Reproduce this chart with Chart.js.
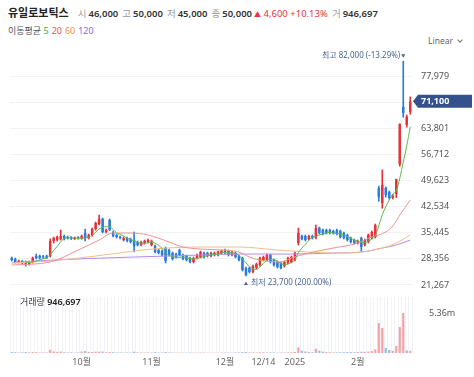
<!DOCTYPE html>
<html>
<head>
<meta charset="utf-8">
<script src="https://cdn.jsdelivr.net/npm/chart.js@4.4.1/dist/chart.umd.min.js"></script>
<style>
  body { margin:0; width:474px; height:377px; background:#fff; overflow:hidden; position:relative;
         font-family:"Noto Sans","Noto Sans CJK KR",sans-serif; color:#222; }
  .hdr { position:absolute; left:8px; white-space:nowrap; font-size:9px; line-height:14px; }
  #hdr1 { top:6px; font-size:9.5px; }
  #hdr2 { top:24px; color:#555; }
  .name { font-size:11px; font-weight:bold; margin-right:5px; }
  .k { color:#999; margin:0 2px 0 4px; }
  .v { font-weight:600; color:#333; }
  .up { color:#e8323c; }
  .ma { margin-left:3px; }
  #linear { position:absolute; left:428px; top:34px; font-size:8.5px; color:#666; line-height:14px; }
  #linear i { display:inline-block; width:3px; height:3px; border-right:1px solid #777; border-bottom:1px solid #777;
              transform:rotate(45deg); margin-left:5px; position:relative; top:-2px; }
  #price-wrap { position:absolute; left:0; top:45px; width:474px; height:248px; }
  #vol-wrap { position:absolute; left:0; top:293px; width:474px; height:84px; }
  #vol-label { position:absolute; left:20px; top:295px; font-size:9px; color:#444; line-height:14px; }
  #vol-label b { color:#222; font-weight:600; }
</style>
</head>
<body>
<div id="hdr1" class="hdr"></div>
<div id="hdr2" class="hdr"></div>
<div id="linear">Linear<i></i></div>
<div id="price-wrap"><canvas id="price"></canvas></div>
<div id="vol-wrap"><canvas id="volume"></canvas></div>
<div id="vol-label"></div>
<script>
const stockName = "유일로보틱스";

const dates = [
  "2024-08-29", "2024-08-30",
  "2024-09-02", "2024-09-03", "2024-09-04", "2024-09-05", "2024-09-06", "2024-09-09", "2024-09-10", "2024-09-11", "2024-09-12",
  "2024-09-13", "2024-09-19", "2024-09-20", "2024-09-23", "2024-09-24", "2024-09-25", "2024-09-26", "2024-09-27", "2024-09-30",
  "2024-10-02", "2024-10-04", "2024-10-07", "2024-10-08", "2024-10-10", "2024-10-11", "2024-10-14", "2024-10-15", "2024-10-16",
  "2024-10-17", "2024-10-18", "2024-10-21", "2024-10-22", "2024-10-23", "2024-10-24", "2024-10-25", "2024-10-28", "2024-10-29",
  "2024-10-30", "2024-10-31",
  "2024-11-01", "2024-11-04", "2024-11-05", "2024-11-06", "2024-11-07", "2024-11-08", "2024-11-11", "2024-11-12", "2024-11-13",
  "2024-11-14", "2024-11-15", "2024-11-18", "2024-11-19", "2024-11-20", "2024-11-21", "2024-11-22", "2024-11-25", "2024-11-26",
  "2024-11-27", "2024-11-28", "2024-11-29",
  "2024-12-02", "2024-12-03", "2024-12-04", "2024-12-05", "2024-12-06", "2024-12-09", "2024-12-10", "2024-12-11", "2024-12-12",
  "2024-12-13", "2024-12-16", "2024-12-17", "2024-12-18", "2024-12-19", "2024-12-20", "2024-12-23", "2024-12-24", "2024-12-26",
  "2024-12-27", "2024-12-30",
  "2025-01-02", "2025-01-03", "2025-01-06", "2025-01-07", "2025-01-08", "2025-01-09", "2025-01-10", "2025-01-13", "2025-01-14",
  "2025-01-15", "2025-01-16", "2025-01-17", "2025-01-20", "2025-01-21", "2025-01-22", "2025-01-23", "2025-01-24", "2025-01-31",
  "2025-02-03", "2025-02-04", "2025-02-05", "2025-02-06", "2025-02-07", "2025-02-10", "2025-02-11", "2025-02-12", "2025-02-13",
  "2025-02-14", "2025-02-17", "2025-02-18", "2025-02-19", "2025-02-20", "2025-02-21", "2025-02-24"
];

const opens = [
  28580, 28310, 27500, 27770, 27500, 26960, 27500, 29130, 29130, 29000,
  29130, 29130, 33200, 33470, 33740, 34550, 34280, 34150, 33800, 34150,
  33900, 35370, 34010, 34830, 36450, 37800, 39170, 35640, 38900, 35640,
  34830, 34280, 33470, 34010, 33740, 33470, 32930, 32110, 32660, 32930,
  32110, 31840, 30755, 30480, 31300, 30755, 29940, 29670, 30755, 29400,
  29130, 28580, 27500, 28580, 28860, 29940, 29940, 29130, 29400, 29400,
  29940, 30755, 30480, 29400, 29940, 29130, 28580, 25870, 25870, 24790,
  25870, 26690, 28040, 28040, 29400, 28040, 27500, 27230, 26410, 27230,
  27500, 28040, 32660, 34550, 34550, 33740, 34550, 34010, 36730, 36180,
  36180, 36180, 35910, 36180, 35910, 35370, 34830, 34010, 33470, 32660,
  34010, 32110, 32930, 34010, 34280, 47600, 43500, 47600, 46500, 44900,
  46000, 54000, 69600, 64700, 68200
];
const highs = [
  28860, 28580, 28040, 27900, 27770, 27770, 28860, 29670, 29400, 29300,
  29400, 33740, 34280, 34550, 36180, 34830, 34550, 34400, 34300, 34400,
  34830, 36450, 35100, 36730, 38350, 40250, 39440, 36450, 39170, 35910,
  35100, 34550, 34280, 34280, 34010, 35640, 33200, 33200, 33470, 33740,
  33470, 32110, 31000, 30755, 31570, 31000, 30210, 29940, 31000, 29670,
  29400, 28860, 28860, 29670, 30480, 30210, 30210, 30210, 30210, 30480,
  30755, 31000, 30755, 30480, 30210, 29400, 28860, 26140, 26140, 26690,
  27230, 28860, 29130, 29670, 29670, 28310, 27770, 27500, 27770, 28860,
  29130, 30210, 36730, 34830, 34830, 34830, 34830, 37540, 37000, 36450,
  36450, 36450, 36180, 36450, 36180, 35640, 35100, 34280, 33740, 33470,
  34280, 33740, 35100, 35910, 37810, 48100, 52500, 47900, 46800, 45900,
  50000, 65000, 82000, 67400, 72300
];
const lows = [
  27770, 27230, 27230, 26960, 26410, 26690, 27230, 28310, 28310, 28500,
  28400, 28860, 32660, 33200, 33470, 33470, 33740, 33600, 33600, 33700,
  33700, 33200, 33740, 34550, 36180, 37540, 35370, 35370, 36000, 34280,
  34010, 33740, 33200, 32930, 32660, 30210, 31840, 31840, 32380, 32660,
  31840, 29940, 29670, 29130, 27230, 29130, 28040, 28580, 29130, 28040,
  27770, 27230, 27230, 28310, 28580, 28580, 28860, 28860, 29130, 29130,
  29670, 29670, 29130, 29130, 28600, 27770, 25060, 23700, 24520, 24520,
  25600, 26410, 27770, 27770, 27230, 26410, 25870, 25600, 26140, 26960,
  27230, 27770, 32110, 33470, 33200, 33470, 33740, 33740, 35100, 34830,
  35100, 35100, 35100, 34830, 34010, 33740, 33200, 32660, 32380, 32380,
  30480, 31840, 32660, 33740, 34010, 44000, 42100, 45100, 44500, 44600,
  45000, 53500, 66800, 64100, 67600
];
const closes = [
  28040, 27500, 27770, 27230, 26960, 27500, 28580, 28580, 28580, 28700,
  28650, 33200, 34010, 34280, 34550, 33740, 33900, 33800, 34150, 33900,
  34550, 33900, 34830, 36450, 38080, 39170, 35640, 36180, 36180, 34550,
  34280, 34010, 34010, 33200, 32930, 31840, 32110, 32930, 33200, 33470,
  33200, 30210, 29940, 29400, 27770, 29400, 28310, 28860, 29400, 28310,
  28040, 27500, 28580, 29400, 30210, 28860, 29130, 29940, 29940, 30210,
  30480, 29940, 29400, 30210, 28860, 28040, 25330, 23970, 24790, 26410,
  26960, 28580, 28860, 29400, 27500, 26690, 26140, 25870, 27500, 28580,
  28860, 29940, 35370, 33740, 33470, 34550, 34010, 36730, 35370, 35100,
  35370, 35370, 35370, 35100, 34280, 34010, 33470, 32930, 32660, 33200,
  31570, 33470, 34830, 35640, 37540, 45200, 48400, 45700, 44900, 45400,
  50000, 65000, 67900, 66900, 71100
];
const volumes = [
  120000, 90000, 80000, 90000, 130000, 80000, 150000, 110000, 80000, 70000,
  80000, 450000, 210000, 160000, 190000, 100000, 80000, 70000, 60000, 70000,
  190000, 260000, 150000, 130000, 180000, 170000, 190000, 100000, 140000, 100000,
  80000, 70000, 60000, 60000, 70000, 170000, 90000, 70000, 60000, 70000,
  60000, 110000, 70000, 60000, 130000, 70000, 60000, 50000, 60000, 50000,
  50000, 60000, 60000, 50000, 60000, 50000, 40000, 40000, 50000, 50000,
  50000, 60000, 50000, 50000, 60000, 70000, 130000, 140000, 80000, 70000,
  60000, 90000, 80000, 70000, 80000, 60000, 50000, 60000, 70000, 80000,
  90000, 130000, 760000, 300000, 210000, 150000, 110000, 560000, 300000, 180000,
  120000, 90000, 80000, 90000, 100000, 90000, 120000, 110000, 100000, 130000,
  160000, 150000, 200000, 260000, 500000, 4020000, 3350000, 670000, 400000, 300000,
  946697, 3480000, 5362000, 350000, 300000
];

// moving averages (index into dates, value)
const ma20At  = [0, 11, 19, 25, 29, 34, 39, 45, 49, 54, 60, 65, 68, 71, 77, 80, 85, 92, 98, 103, 107, 109, 111, 114];
const ma20Val = [26690, 27500, 30755, 33470, 35370, 35370, 34830, 32930, 31570, 31030, 30755, 30210, 28860, 28040, 27500, 28580, 29940, 31300, 32380, 34280, 35640, 37270, 40250, 44330];
const ma60At  = [0, 11, 24, 35, 44, 54, 65, 76, 85, 92, 100, 106, 110, 114];
const ma60Val = [27230, 27770, 29130, 30480, 31300, 31570, 31570, 30755, 30210, 29940, 30210, 31300, 32660, 34830];
const ma120At  = [0, 11, 35, 54, 65, 80, 92, 100, 106, 110, 114];
const ma120Val = [27300, 28000, 28860, 29400, 29670, 29670, 29940, 30210, 31300, 32110, 33470];

const priceTicks = [21267, 28356, 35445, 42534, 49623, 56712, 63801, 70890, 77979];
const volTicks = [5360000];
const xTickDates = ["2024-10-02", "2024-11-01", "2024-12-02", "2024-12-17", "2025-01-02", "2025-02-03"];
const xTickText = ["10월", "11월", "12월", "12/14", "2025", "2월"];
const hoverDate = "2025-02-18";

const UP = "#e8303a", DOWN = "#2a7be0";
const FONT = '"Noto Sans", "Noto Sans CJK KR", "DejaVu Sans", sans-serif';
Chart.defaults.font.family = FONT;

const fmt = v => Math.round(v).toLocaleString("en-US");
const pct = r => (r * 100).toFixed(2) + "%";
const pts = (at, val) => at.map((k, j) => ({ x: dates[k], y: val[j] }));
// fixed-width right axis, no extra label padding above/below the plot
const rightAxisFit = s => { s.width = 62; s.paddingTop = 0; s.paddingBottom = 0; };

const candleColor = closes.map((c, i) => c >= opens[i] ? UP : DOWN);
const volColor = closes.map((c, i) => (i === 0 ? c >= opens[0] : c >= closes[i - 1]) ? "#f4a2a6" : "#94bdef");
const ma5 = closes.map((c, i) => i < 4 ? null : closes.slice(i - 4, i + 1).reduce((a, b) => a + b, 0) / 5);

// header
const h = dates.indexOf(hoverDate);
const chg = closes[h] - closes[h - 1];
document.getElementById("hdr1").innerHTML =
  `<span class="name">${stockName}</span>` +
  `<span class="k">시</span><span class="v">${fmt(opens[h])}</span>` +
  `<span class="k">고</span><span class="v">${fmt(highs[h])}</span>` +
  `<span class="k">저</span><span class="v">${fmt(lows[h])}</span>` +
  `<span class="k">종</span><span class="v">${fmt(closes[h])}</span>` +
  `<span class="up" style="margin-left:2px"><span style="font-size:7px">▲</span> ${fmt(chg)} +${pct(chg / closes[h - 1])}</span>` +
  `<span class="k">거</span><span class="v">${fmt(volumes[h])}</span>`;
document.getElementById("hdr2").innerHTML =
  `이동평균 <span style="color:#3fae3f">5</span><span class="ma" style="color:#f0505a">20</span>` +
  `<span class="ma" style="color:#f08c3c">60</span><span class="ma" style="color:#8a63d2">120</span>`;
document.getElementById("vol-label").innerHTML = `거래량 <b>${fmt(volumes[h])}</b>`;

const maLine = (data, color) => ({
  type: "line", data, borderColor: color, borderWidth: 1, pointRadius: 0,
  cubicInterpolationMode: "monotone", spanGaps: true, order: 0
});

const marks = {
  id: "marks",
  afterDraw(chart) {
    const { ctx, chartArea, scales: { x, y } } = chart;
    const hi = Math.max(...highs), hiIdx = highs.indexOf(hi);
    const lo = Math.min(...lows), loIdx = lows.indexOf(lo);
    const last = closes[closes.length - 1];
    ctx.save();
    ctx.font = "8px " + FONT;
    ctx.fillStyle = "#4d6491";
    ctx.textBaseline = "middle";

    const hx = x.getPixelForValue(hiIdx), hy = y.getPixelForValue(hi) - 5;
    ctx.textAlign = "right";
    ctx.fillText("최고 " + fmt(hi) + " (" + pct(last / hi - 1) + ")", hx - 3, hy);
    ctx.beginPath();
    ctx.moveTo(hx - 2, hy - 2); ctx.lineTo(hx + 2, hy - 2); ctx.lineTo(hx, hy + 1.5);
    ctx.fill();

    const lx = x.getPixelForValue(loIdx), ly = y.getPixelForValue(lo) + 7;
    ctx.beginPath();
    ctx.moveTo(lx - 2, ly + 2); ctx.lineTo(lx + 2, ly + 2); ctx.lineTo(lx, ly - 1.5);
    ctx.fill();
    ctx.textAlign = "left";
    ctx.fillText("최저 " + fmt(lo) + " (" + pct(last / lo - 1) + ")", lx + 5, ly);

    const py = y.getPixelForValue(last), r = chartArea.right;
    ctx.fillStyle = "#34518d";
    ctx.beginPath();
    ctx.moveTo(r + 1, py); ctx.lineTo(r + 6, py - 6.5); ctx.lineTo(472, py - 6.5);
    ctx.lineTo(472, py + 6.5); ctx.lineTo(r + 6, py + 6.5); ctx.closePath();
    ctx.fill();
    ctx.fillStyle = "#fff";
    ctx.font = "bold 9px " + FONT;
    ctx.fillText(fmt(last), r + 9, py + 0.5);
    ctx.restore();
  }
};

new Chart(document.getElementById("price"), {
  type: "bar",
  data: {
    labels: dates,
    datasets: [
      maLine(ma5, "#5cbb4c"),
      maLine(pts(ma20At, ma20Val), "#f29192"),
      maLine(pts(ma60At, ma60Val), "#f5bd85"),
      maLine(pts(ma120At, ma120Val), "#b18be8"),
      {
        data: opens.map((o, i) => [o, closes[i]]),
        backgroundColor: candleColor, barPercentage: 0.72, categoryPercentage: 1,
        grouped: false, minBarLength: 1, order: 1
      },
      {
        data: lows.map((l, i) => [l, highs[i]]),
        backgroundColor: candleColor, barThickness: 1, grouped: false, order: 2
      }
    ]
  },
  options: {
    responsive: true, maintainAspectRatio: false, animation: false,
    layout: { padding: { left: 10, top: 0, right: 0, bottom: 0 } },
    plugins: { legend: { display: false }, tooltip: { enabled: false } },
    scales: {
      x: { display: false, offset: true },
      y: {
        position: "right", min: 19096, max: 86391,
        afterBuildTicks: s => { s.ticks = priceTicks.map(v => ({ value: v })); },
        afterFit: rightAxisFit,
        grid: { color: "#f1f2f4", drawTicks: false },
        border: { display: false },
        ticks: { padding: 9, color: "#555", font: { size: 9 }, callback: v => fmt(v) }
      }
    }
  },
  plugins: [marks]
});

new Chart(document.getElementById("volume"), {
  type: "bar",
  data: {
    labels: dates,
    datasets: [{
      data: volumes, backgroundColor: volColor, barPercentage: 0.62, categoryPercentage: 1
    }]
  },
  options: {
    responsive: true, maintainAspectRatio: false, animation: false,
    layout: { padding: { left: 10, top: 4, right: 0, bottom: 0 } },
    plugins: { legend: { display: false }, tooltip: { enabled: false } },
    scales: {
      x: {
        afterFit: s => { s.height = 24; s.paddingLeft = 0; s.paddingRight = 0; },
        grid: { color: "#f0f2f6", drawTicks: false },
        border: { display: false },
        ticks: {
          autoSkip: false, maxRotation: 0, padding: 4, color: "#666", font: { size: 9 },
          callback: (v, i) => { const k = xTickDates.indexOf(dates[i]); return k < 0 ? "" : xTickText[k]; }
        }
      },
      y: {
        position: "right", min: 0, max: 7500000,
        afterBuildTicks: s => { s.ticks = volTicks.map(v => ({ value: v })); },
        afterFit: rightAxisFit,
        grid: { display: false },
        border: { display: false },
        ticks: { padding: 9, color: "#555", font: { size: 9 }, callback: v => (v / 1e6).toFixed(2) + "m" }
      }
    }
  }
});
</script>
</body>
</html>
